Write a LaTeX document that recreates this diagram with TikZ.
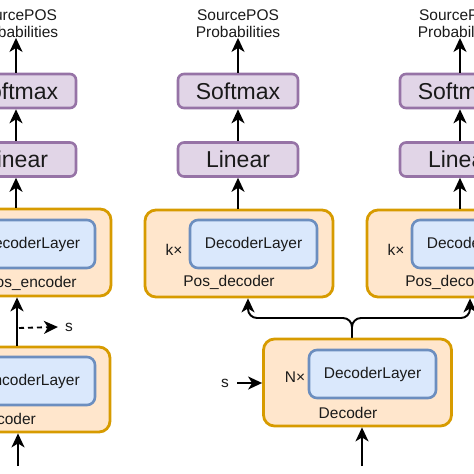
\documentclass[tikz,border=0pt]{standalone}
\usepackage{fontspec}
\setmainfont{Liberation Sans}
\usetikzlibrary{arrows.meta}
\definecolor{pfill}{HTML}{E1D5E7}
\definecolor{pdraw}{HTML}{9673A6}
\definecolor{ofill}{HTML}{FFE6CC}
\definecolor{odraw}{HTML}{D79B00}
\definecolor{bfill}{HTML}{DAE8FC}
\definecolor{bdraw}{HTML}{6C8EBF}
\definecolor{txt}{HTML}{1A1A1A}
\begin{document}
\begin{tikzpicture}[x=1pt,y=-1pt,
  purplebox/.style={draw=pdraw,fill=pfill,line width=2.6pt,rounded corners=6pt,
    minimum width=120pt,minimum height=34pt,inner sep=0pt,text=txt,
    font=\fontsize{23}{24}\selectfont},
  outerbox/.style={draw=odraw,fill=ofill,line width=2.8pt,rounded corners=11pt,
    minimum width=188pt,minimum height=87pt,inner sep=0pt},
  innerbox/.style={draw=bdraw,fill=bfill,line width=2.6pt,rounded corners=8pt,
    minimum width=127pt,minimum height=48pt,inner sep=0pt,text=txt,
    font=\fontsize{15.5}{17}\selectfont},
  lbl/.style={inner sep=0pt,text=txt,font=\fontsize{15.5}{17.5}\selectfont},
  conn/.style={line width=1.9pt,-{Stealth[length=14pt,width=13pt,inset=4pt]}},
]
\path[use as bounding box,clip] (0,0) rectangle (474,474);

% ---------- left column ----------
\node[lbl,align=center] (outL) at (16,23.5) {SourcePOS\\Probabilities};
\node[purplebox] (smL) at (16,91) {Softmax};
\node[purplebox] (linL) at (16,159.5) {Linear};
\node[outerbox] (peL) at (17,252.5) {};
\node[innerbox] (elL) at (31.5,244) {DecoderLayer};
\node[lbl] (petL) at (31,283) {Pos\_encoder};
\node[outerbox,minimum height=85pt] (encL) at (16,389.5) {};
\node[innerbox] (enlL) at (31.5,381) {EncoderLayer};
\node[lbl] (enctL) at (7,419) {Encoder};
\node[lbl] (sL) at (69,327) {s};
\coordinate (dsL) at (19,328);
\coordinate (encin) at (18,466);

\draw[conn] (smL) -- (outL);
\draw[conn] (linL) -- (smL);
\draw[conn] (linL.south |- peL.north) -- (linL.south);
\draw[conn] (encL.north -| 17,0) -- (peL.south -| 17,0);
\draw[conn,dash pattern=on 5pt off 4pt] (dsL) -- ([xshift=-7pt]sL.west);
\draw[conn] (encin) -- (encin |- encL.south);

% ---------- middle column ----------
\node[lbl,align=center] (outM) at (238,23.5) {SourcePOS\\Probabilities};
\node[purplebox] (smM) at (238,91) {Softmax};
\node[purplebox] (linM) at (238,159.5) {Linear};
\node[outerbox] (pdM) at (239,253.5) {};
\node[innerbox] (dlM) at (253.5,244) {DecoderLayer};
\node[lbl] (kM) at (174,250) {k×};
\node[lbl] (pdtM) at (229,282) {Pos\_decoder};

\draw[conn] (smM) -- (outM);
\draw[conn] (linM) -- (smM);
\draw[conn] (linM.south |- pdM.north) -- (linM.south);

% ---------- right column ----------
\node[lbl,align=center] (outR) at (460,23.5) {SourcePOS\\Probabilities};
\node[purplebox] (smR) at (460,91) {Softmax};
\node[purplebox] (linR) at (460,159.5) {Linear};
\node[outerbox] (pdR) at (461,253.5) {};
\node[innerbox] (dlR) at (475.5,244) {DecoderLayer};
\node[lbl] (kR) at (396,250) {k×};
\node[lbl] (pdtR) at (451,282) {Pos\_decoder};

\draw[conn] (smR) -- (outR);
\draw[conn] (linR) -- (smR);
\draw[conn] (linR.south |- pdR.north) -- (linR.south);

% ---------- decoder ----------
\node[outerbox] (dec) at (357.5,382.5) {};
\node[innerbox] (decl) at (372.5,374) {DecoderLayer};
\node[lbl] (nx) at (295,377) {N×};
\node[lbl] (dect) at (348,413) {Decoder};
\node[lbl] (sD) at (225,383) {s};
\coordinate (br) at (352,318);
\coordinate (decin) at (362,466);

\draw[conn,shorten <=8pt] (sD.east) -- (sD.east -| dec.west);
\draw[conn] (decin) -- (decin |- dec.south);
\draw[conn,rounded corners=9pt] ([xshift=-5.5pt]dec.north) -- (br) -| ([xshift=9pt]pdM.south);
\draw[conn,rounded corners=9pt] ([xshift=-5.5pt]dec.north) -- (br) -| ([xshift=9pt]pdR.south);
\end{tikzpicture}
\end{document}
